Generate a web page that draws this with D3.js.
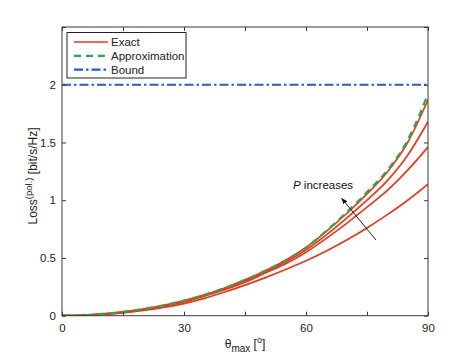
<!DOCTYPE html>
<html><head><meta charset="utf-8">
<script src="https://cdn.jsdelivr.net/npm/d3@7"></script>
<style>
html,body{margin:0;padding:0;background:#fff;}
svg{display:block;font-family:"Liberation Sans",Arial,Helvetica,sans-serif;}
</style></head>
<body>
<svg id="chart" width="474" height="355"></svg>
<script>
// ---- data ----
const theta = [0,5,10,15,20,25,30,35,40,45,50,55,60,65,70,75,80,85,90];
const approx = [0,0.004,0.015,0.033,0.058,0.09,0.13,0.18,0.24,0.31,0.39,0.48,0.59,0.735,0.895,1.07,1.26,1.52,1.92];
const exactP4 = [0,0.004,0.015,0.033,0.058,0.09,0.13,0.18,0.24,0.31,0.39,0.48,0.59,0.73,0.885,1.055,1.245,1.50,1.87];
const exactP3 = [0,0.004,0.014,0.031,0.055,0.086,0.125,0.175,0.235,0.30,0.38,0.465,0.57,0.70,0.845,1.00,1.17,1.39,1.68];
const exactP2 = [0,0.004,0.014,0.030,0.053,0.083,0.12,0.17,0.225,0.29,0.37,0.45,0.55,0.67,0.80,0.94,1.085,1.26,1.46];
const exactP1 = [0,0.003,0.011,0.025,0.045,0.072,0.105,0.15,0.205,0.265,0.33,0.40,0.475,0.56,0.655,0.76,0.875,1.00,1.14];
const boundValue = 2;
const xTicks = [0,15,30,45,60,75,90];
const xTickLabels = ["0","","30","","60","","90"];
const yTicks = [0,0.5,1,1.5,2,2.5];
const yTickLabels = ["0","0.5","1","1.5","2",""];
const legendLabels = ["Exact","Approximation","Bound"];
const arrowFrom = [77.2,0.655];
const arrowTo = [68.8,1.016];
const annotPos = [56.8,1.1];

// ---- layout ----
const svg = d3.select("#chart");
const L=62, R=428, T=27, B=315.7;
const x = d3.scaleLinear().domain([0,90]).range([L,R]);
const y = d3.scaleLinear().domain([0,2.5]).range([B,T]);

const red="#e8391d", green="#2aa84a", blue="#1f5fd0", axisCol="#3a3a3a";

const defs = svg.append("defs");
defs.append("clipPath").attr("id","clip").append("rect")
  .attr("x",L).attr("y",T).attr("width",R-L).attr("height",B-T);
defs.append("marker").attr("id","arr").attr("viewBox","0 0 10 10")
  .attr("refX",9).attr("refY",5).attr("markerWidth",7).attr("markerHeight",7)
  .attr("orient","auto").append("path").attr("d","M0,1 L10,5 L0,9 z").attr("fill","#111");

const line = d3.line().x((d,i)=>x(theta[i])).y(d=>y(d)).curve(d3.curveMonotoneX);
const g = svg.append("g").attr("clip-path","url(#clip)");

// bound
g.append("path").datum(theta.map(()=>boundValue)).attr("d",line)
  .attr("fill","none").attr("stroke",blue).attr("stroke-width",2.2)
  .attr("stroke-dasharray","9,3,2.5,3");

[exactP1,exactP2,exactP3,exactP4].forEach(s=>{
  g.append("path").datum(s).attr("d",line).attr("fill","none")
   .attr("stroke",red).attr("stroke-width",1.7);
});
g.append("path").datum(approx).attr("d",line).attr("fill","none")
  .attr("stroke",green).attr("stroke-width",2.2).attr("stroke-dasharray","7,5");

// axes box
svg.append("rect").attr("x",L).attr("y",T).attr("width",R-L).attr("height",B-T)
  .attr("fill","none").attr("stroke",axisCol).attr("stroke-width",1);

const xb = svg.append("g").attr("transform",`translate(0,${B})`)
  .call(d3.axisBottom(x).tickValues(xTicks).tickSizeInner(-4).tickSizeOuter(0)
  .tickPadding(8).tickFormat((d,i)=>xTickLabels[i]));
const xt = svg.append("g").attr("transform",`translate(0,${T})`)
  .call(d3.axisTop(x).tickValues(xTicks).tickSizeInner(-4).tickSizeOuter(0).tickFormat(""));
const yl = svg.append("g").attr("transform",`translate(${L},0)`)
  .call(d3.axisLeft(y).tickValues(yTicks).tickSizeInner(-4).tickSizeOuter(0)
  .tickPadding(6).tickFormat((d,i)=>yTickLabels[i]));
const yr = svg.append("g").attr("transform",`translate(${R},0)`)
  .call(d3.axisRight(y).tickValues(yTicks).tickSizeInner(-4).tickSizeOuter(0).tickFormat(""));
[xb,xt,yl,yr].forEach(a=>{
  a.select(".domain").remove();
  a.selectAll("line").attr("stroke",axisCol);
  a.selectAll("text").attr("fill","#222").style("font-size","11.5px")
   .style("font-family","'Liberation Sans',Arial,sans-serif");
});

// axis labels
const xl = svg.append("text").attr("x",245).attr("y",348).attr("text-anchor","middle")
  .attr("fill","#222").style("font-size","12px");
xl.append("tspan").text("θ");
xl.append("tspan").attr("dy",4).style("font-size","10px").text("max");
xl.append("tspan").attr("dy",-4).text(" [");
xl.append("tspan").attr("dy",-5).style("font-size","9px").text("o");
xl.append("tspan").attr("dy",5).text("]");

const ylab = svg.append("text").attr("transform","translate(37,176) rotate(-90)")
  .attr("text-anchor","middle").attr("fill","#222").style("font-size","12px");
ylab.append("tspan").text("Loss");
ylab.append("tspan").attr("dy",-5).style("font-size","9.5px").text("(pol.)");
ylab.append("tspan").attr("dy",5).text(" [bit/s/Hz]");

// annotation
svg.append("line").attr("x1",x(arrowFrom[0])).attr("y1",y(arrowFrom[1]))
  .attr("x2",x(arrowTo[0])).attr("y2",y(arrowTo[1]))
  .attr("stroke","#111").attr("stroke-width",0.9).attr("marker-end","url(#arr)");
const at = svg.append("text").attr("x",x(annotPos[0])).attr("y",y(annotPos[1]))
  .attr("fill","#111").style("font-size","11.5px");
at.append("tspan").style("font-style","italic").text("P");
at.append("tspan").text(" increases");

// legend
const lg = svg.append("g");
lg.append("rect").attr("x",67).attr("y",32.5).attr("width",119).attr("height",45.5)
  .attr("fill","#fff").attr("stroke","#222").attr("stroke-width",1);
const styles = [
  {c:red,w:1.7,d:null},
  {c:green,w:2.2,d:"7,5"},
  {c:blue,w:2.2,d:"9,3,2.5,3"}
];
legendLabels.forEach((lab,i)=>{
  const yy = 42 + i*13.8;
  const ln = lg.append("line").attr("x1",74).attr("x2",108).attr("y1",yy).attr("y2",yy)
    .attr("stroke",styles[i].c).attr("stroke-width",styles[i].w);
  if(styles[i].d) ln.attr("stroke-dasharray",styles[i].d);
  lg.append("text").attr("x",111).attr("y",yy+4).attr("fill","#222")
    .style("font-size","11.5px").text(lab);
});
</script>
</body></html>
